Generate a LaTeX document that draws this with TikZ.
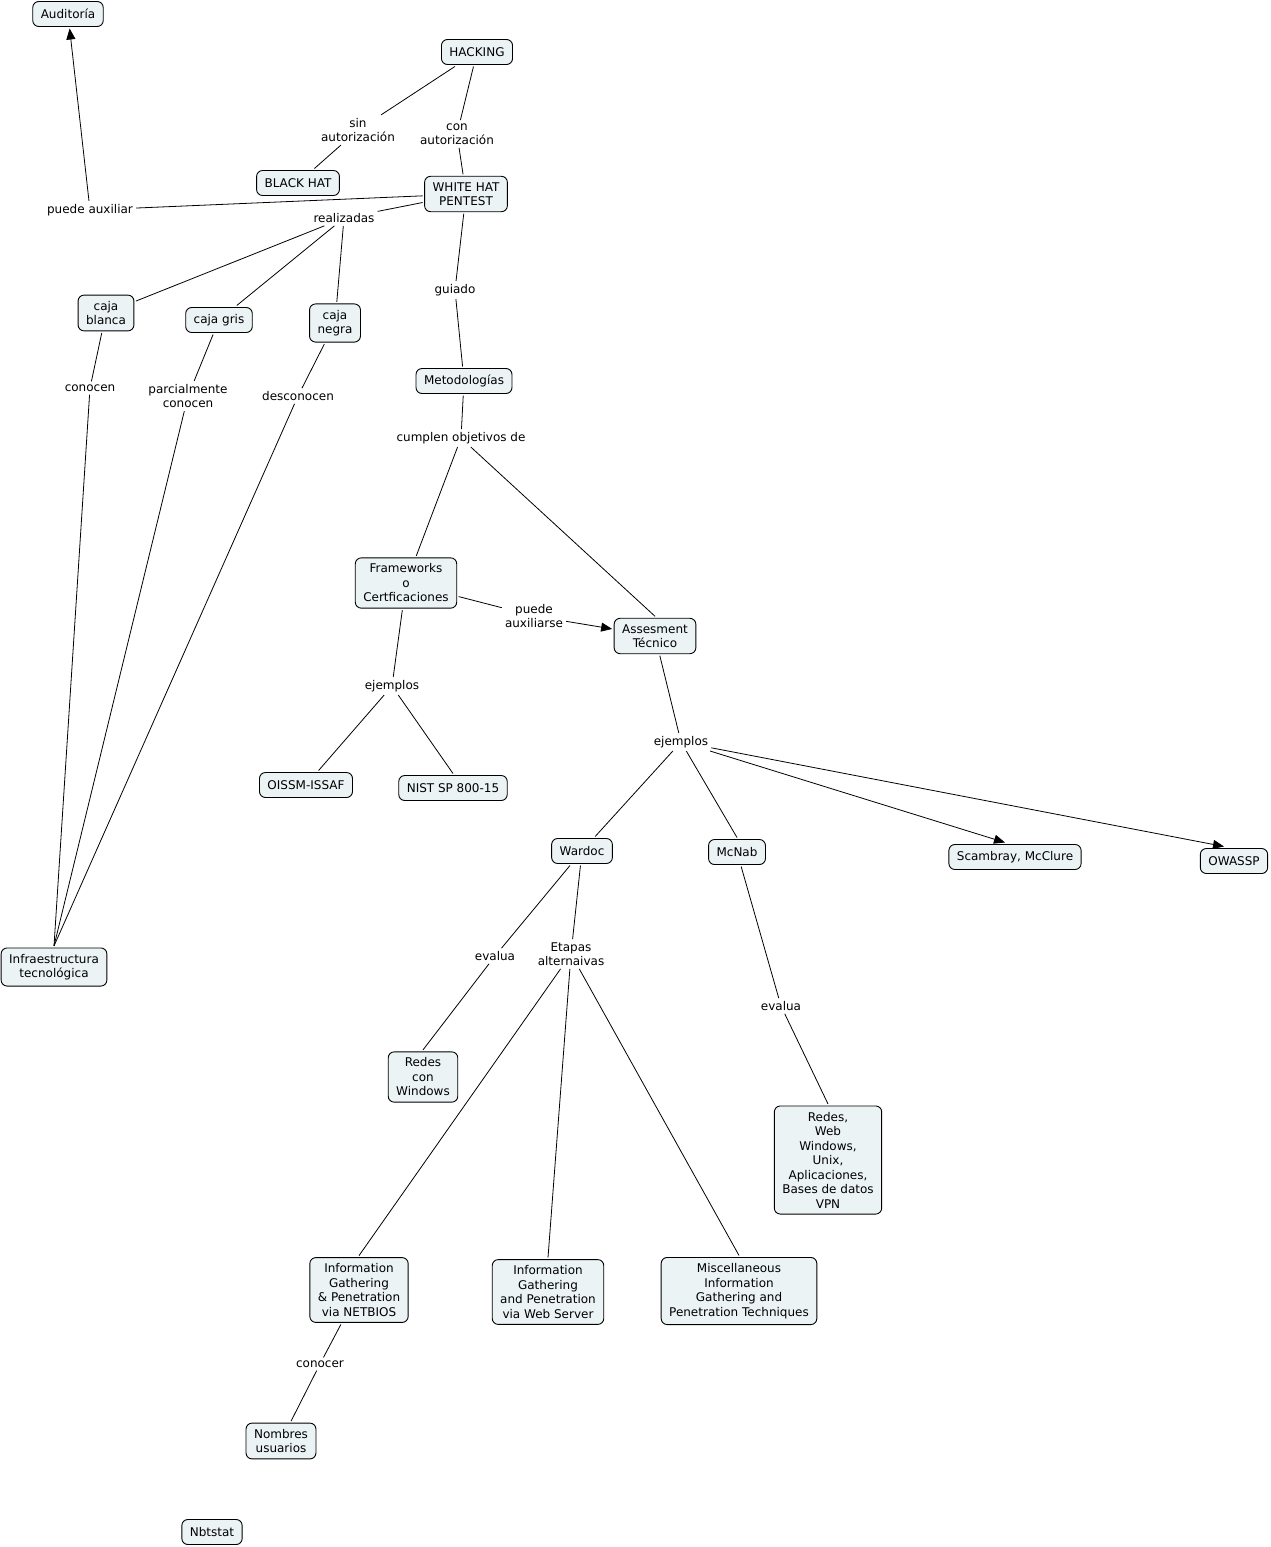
\documentclass[tikz,border=0pt]{standalone}
\usepackage{fontspec}
\setmainfont{DejaVu Sans}
\usetikzlibrary{arrows.meta}
\definecolor{cfill}{RGB}{236,243,245}

\begin{document}
\begin{tikzpicture}[x=1pt, y=-1pt, >={Triangle[length=11pt, width=9pt]},
  font=\fontsize{12}{14.5}\selectfont,
  concept/.style={draw, line width=0.9pt, fill=cfill, rounded corners=6pt, align=center,
    inner xsep=8pt, inner ysep=6pt, minimum height=25pt, outer sep=2pt},
  phrase/.style={align=center, inner sep=3pt},
  link/.style={line width=0.8pt}]
\useasboundingbox (0,0) rectangle (1271,1547);

% concepts
\node[concept] (AUD)   at (68,14)    {Auditoría};
\node[concept] (HACK)  at (477,52)   {HACKING};
\node[concept] (BH)    at (298,183)  {BLACK HAT};
\node[concept] (WH)    at (466,194)  {WHITE HAT\\PENTEST};
\node[concept] (CB)    at (106,313)  {caja\\blanca};
\node[concept] (CG)    at (219,320)  {caja gris};
\node[concept] (CN)    at (335,323)  {caja\\negra};
\node[concept] (MET)   at (464,381)  {Metodologías};
\node[concept] (FW)    at (406,583)  {Frameworks\\o\\Certficaciones};
\node[concept] (AT)    at (655,636)  {Assesment\\Técnico};
\node[concept] (OIS)   at (306,785)  {OISSM-ISSAF};
\node[concept] (NIST)  at (453,788)  {NIST SP 800-15};
\node[concept] (WAR)   at (582,851)  {Wardoc};
\node[concept] (MCN)   at (737,852)  {McNab};
\node[concept] (SCA)   at (1015,857) {Scambray, McClure};
\node[concept] (OWA)   at (1234,861) {OWASSP};
\node[concept] (INF)   at (54,967)   {Infraestructura\\tecnológica};
\node[concept] (RCW)   at (423,1077) {Redes\\con\\Windows};
\node[concept] (RED)   at (828,1160) {Redes,\\Web\\Windows,\\Unix,\\Aplicaciones,\\Bases de datos\\VPN};
\node[concept] (NETB)  at (359,1290) {Information\\Gathering\\\& Penetration\\via NETBIOS};
\node[concept] (WEBS)  at (548,1292) {Information\\Gathering\\and Penetration\\via Web Server};
\node[concept] (MISC)  at (739,1291) {Miscellaneous\\Information\\Gathering and\\Penetration Techniques};
\node[concept] (NOM)   at (281,1441) {Nombres\\usuarios};
\node[concept] (NBT)   at (212,1532) {Nbtstat};

% linking phrases
\node[phrase] (lSin)  at (358,130)  {sin\\autorización};
\node[phrase] (lCon)  at (457,134)  {con\\autorización};
\node[phrase] (lAux)  at (90,210)   {puede auxiliar};
\node[phrase] (lReal) at (344,218)  {realizadas};
\node[phrase] (lGui)  at (455,290)  {guiado};
\node[phrase] (lCon1) at (90,388)   {conocen};
\node[phrase] (lPar)  at (188,396)  {parcialmente\\conocen};
\node[phrase] (lDes)  at (298,396)  {desconocen};
\node[phrase] (lCum)  at (461,438)  {cumplen objetivos de};
\node[phrase] (lAuxs) at (534,616)  {puede\\auxiliarse};
\node[phrase] (lEj1)  at (392,686)  {ejemplos};
\node[phrase] (lEj2)  at (681,742)  {ejemplos};
\node[phrase] (lEv1)  at (495,956)  {evalua};
\node[phrase] (lEta)  at (571,954)  {Etapas\\alternaivas};
\node[phrase] (lEv2)  at (781,1006) {evalua};
\node[phrase] (lCoc)  at (320,1364) {conocer};

% connectors
\draw[link] (HACK) -- (lSin) -- (BH);
\draw[link] (HACK) -- (lCon) -- (WH);
\draw[link] (WH) -- (lAux);
\draw[link, ->] (lAux) -- (AUD);
\draw[link] (WH) -- (lReal);
\foreach \c in {CB, CG, CN}
  \draw[link] (lReal) -- (\c);
\draw[link] (WH) -- (lGui) -- (MET);
\draw[link] (CB) -- (lCon1) -- (INF.north);
\draw[link] (CG) -- (lPar) -- (INF.north);
\draw[link] (CN) -- (lDes) -- (INF.north);
\draw[link] (MET) -- (lCum);
\draw[link] (lCum) -- (FW);
\draw[link] (lCum) -- (AT.north);
\draw[link] (FW) -- (lAuxs);
\draw[link, ->] (lAuxs) -- (AT);
\draw[link] (FW) -- (lEj1);
\draw[link] (lEj1) -- (OIS);
\draw[link] (lEj1) -- (NIST.north);
\draw[link] (AT) -- (lEj2);
\draw[link] (lEj2) -- (WAR);
\draw[link] (lEj2) -- (MCN.north);
\draw[link, ->] (lEj2) -- ([xshift=-10pt]SCA.north);
\draw[link, ->] (lEj2) -- ([xshift=-10pt]OWA.north);
\draw[link] (WAR) -- (lEv1) -- (RCW.north);
\draw[link] (WAR) -- (lEta);
\foreach \c in {NETB, WEBS, MISC}
  \draw[link] (lEta) -- (\c.north);
\draw[link] (MCN) -- (lEv2) -- (RED.north);
\draw[link] (NETB) -- (lCoc) -- (NOM);
\end{tikzpicture}
\end{document}
